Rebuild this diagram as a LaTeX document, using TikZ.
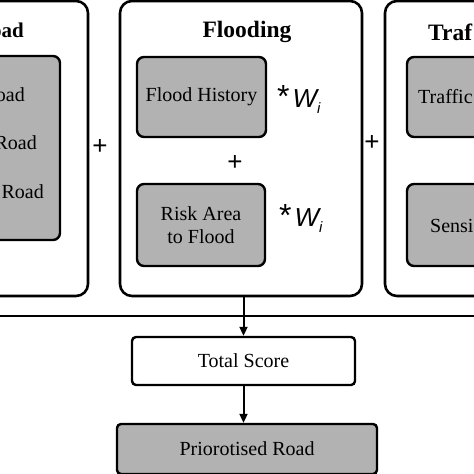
\documentclass[tikz,border=0pt]{standalone}
\usepackage{fontspec}
\setmainfont{Liberation Serif}
\newfontfamily\wfont{Liberation Sans}
\usetikzlibrary{arrows.meta}
\definecolor{boxgray}{RGB}{178,178,178}
\begin{document}
\begin{tikzpicture}[x=1pt,y=-1pt,
  outer/.style={draw,line width=2.6pt,rounded corners=12pt,inner sep=0pt},
  inner/.style={draw,line width=2.4pt,rounded corners=7pt,fill=boxgray,inner sep=0pt,align=center,font=\fontsize{20}{23}\selectfont},
  flowbox/.style={draw,line width=2.4pt,rounded corners=4pt,inner sep=0pt,font=\fontsize{20}{23}\selectfont},
  lbl/.style={inner sep=0pt,font=\fontsize{20}{23}\selectfont},
  ttl/.style={inner sep=0pt,font=\fontsize{23.5}{26}\selectfont\bfseries},
  plus/.style={inner sep=0pt,font=\wfont\fontsize{26}{26}\selectfont},
  weight/.style={inner sep=0pt,anchor=base west,font=\wfont\fontsize{26}{26}\selectfont},
  arr/.style={line width=2pt,-{Triangle[length=9pt,width=8pt]}},
  plain/.style={line width=2pt}]
\useasboundingbox (0,0) rectangle (474,474);
\clip (0,0) rectangle (474,474);
\fill[white] (0,0) rectangle (474,474);

% left group (cropped)
\node[outer,minimum width=288pt,minimum height=295pt] (leftouter) at (-56,148.5) {};
\node[inner,minimum width=210pt,minimum height=184pt] (leftinner) at (-45,148) {};
\node[ttl,anchor=east,font=\fontsize{21}{24}\selectfont\bfseries] (lefttitle) at (24,30) {oad};
\node[lbl,anchor=east] (l1) at (25,95) {oad};
\node[lbl,anchor=east] (l2) at (37,143) {Road};
\node[lbl,anchor=east] (l3) at (44,192) {Road};

\node[plus] (p1) at (100,147) {+};

% middle group
\node[outer,minimum width=242pt,minimum height=295pt] (midouter) at (241,148.5) {};
\node[ttl] (midtitle) at (247,32) {Flooding};
\node[inner,minimum width=129pt,minimum height=80pt] (flood) at (201.5,97) {Flood History};
\node[inner,minimum width=128pt,minimum height=82pt] (risk) at (201,225) {Risk Area\\to Flood};
\node[weight] (w1) at (277,107) {{\fontsize{32}{32}\selectfont *}\hspace{3pt}\itshape W\raisebox{-6pt}{\fontsize{15}{15}\selectfont i}};
\node[weight] (w2) at (279,226) {{\fontsize{32}{32}\selectfont *}\hspace{3pt}\itshape W\raisebox{-6pt}{\fontsize{15}{15}\selectfont i}};
\node[plus] (p2) at (235,163) {+};

\node[plus] (p3) at (372,143) {+};

% right group (cropped)
\node[outer,minimum width=215pt,minimum height=295pt] (rightouter) at (492.5,148.5) {};
\node[ttl,anchor=west] (righttitle) at (428,32) {Traf};
\node[inner,minimum width=193pt,minimum height=80pt] (traffic) at (503.5,97) {};
\node[inner,minimum width=193pt,minimum height=82pt] (sensi) at (503.5,225) {};
\node[lbl,anchor=west] (trafficlbl) at (418,97) {Traffic};
\node[lbl,anchor=west] (sensilbl) at (430,226) {Sensi};

% bottom flow
\coordinate (hl) at (0,316);
\coordinate (hr) at (474,316);
\draw[plain] (hl) -- (hr);
\node[flowbox,minimum width=223pt,minimum height=48pt] (total) at (243.5,361) {Total Score};
\node[flowbox,fill=boxgray,minimum width=260pt,minimum height=50pt] (prior) at (247,449) {Priorotised Road};
\draw[arr] (total.north |- midouter.south) -- (total.north);
\draw[arr] (total.south) -- (total.south |- prior.north);
\end{tikzpicture}
\end{document}
